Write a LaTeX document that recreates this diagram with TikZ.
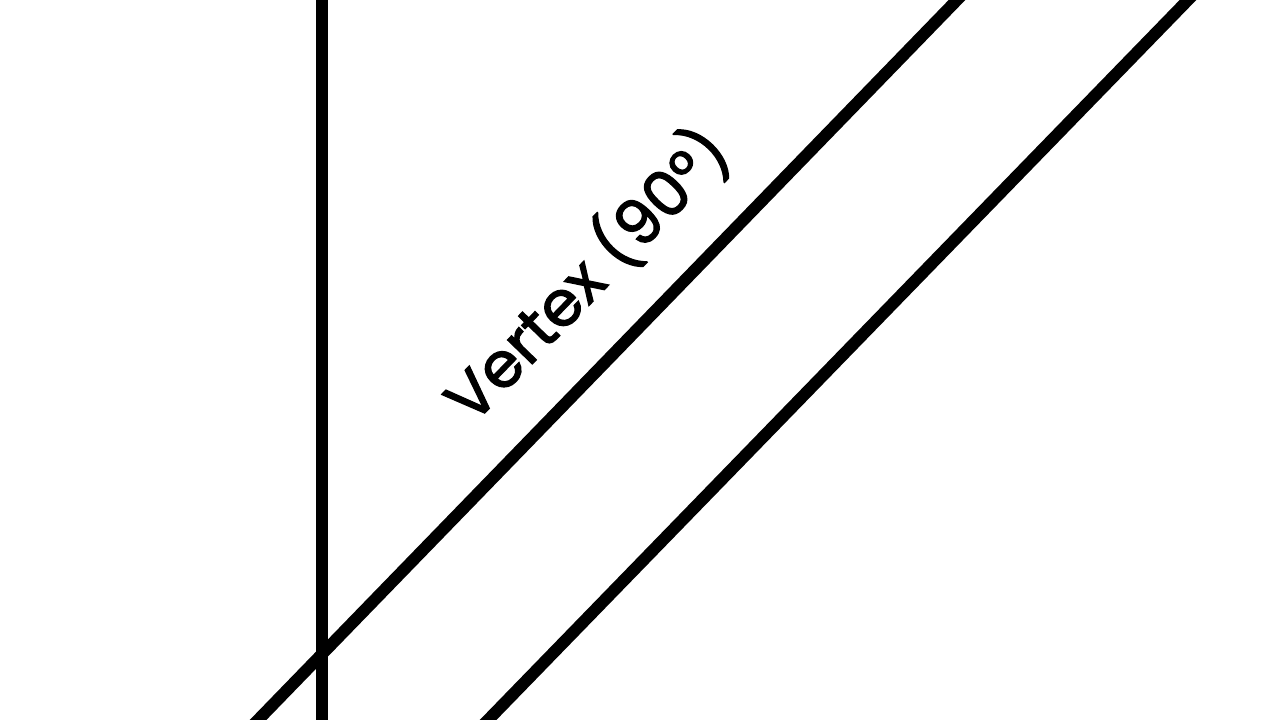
\documentclass[tikz,border=0pt]{standalone}
\usepackage{fontspec}
\setmainfont{Poppins}[FakeBold=2]
\begin{document}
\begin{tikzpicture}
  \useasboundingbox (0,0) rectangle (12.8,7.2);
  \draw
    (3.22,-0.2) coordinate (v0)
    (3.22,7.4) coordinate (v1)
    (2.386,-0.2) coordinate (a0)
    (9.764,7.4) coordinate (a1)
    (4.686,-0.2) coordinate (b0)
    (12.074,7.4) coordinate (b1);
  \begin{scope}[line width=3.4pt]
    \draw (v0) to (v1);
    \draw (a0) to (a1);
    \draw (b0) to (b1);
  \end{scope}
  \node[rotate=45.9, anchor=base, font=\fontsize{17.9}{21}\selectfont] (label) at (6.03,4.29) {Vertex (90°)};
\end{tikzpicture}
\end{document}
